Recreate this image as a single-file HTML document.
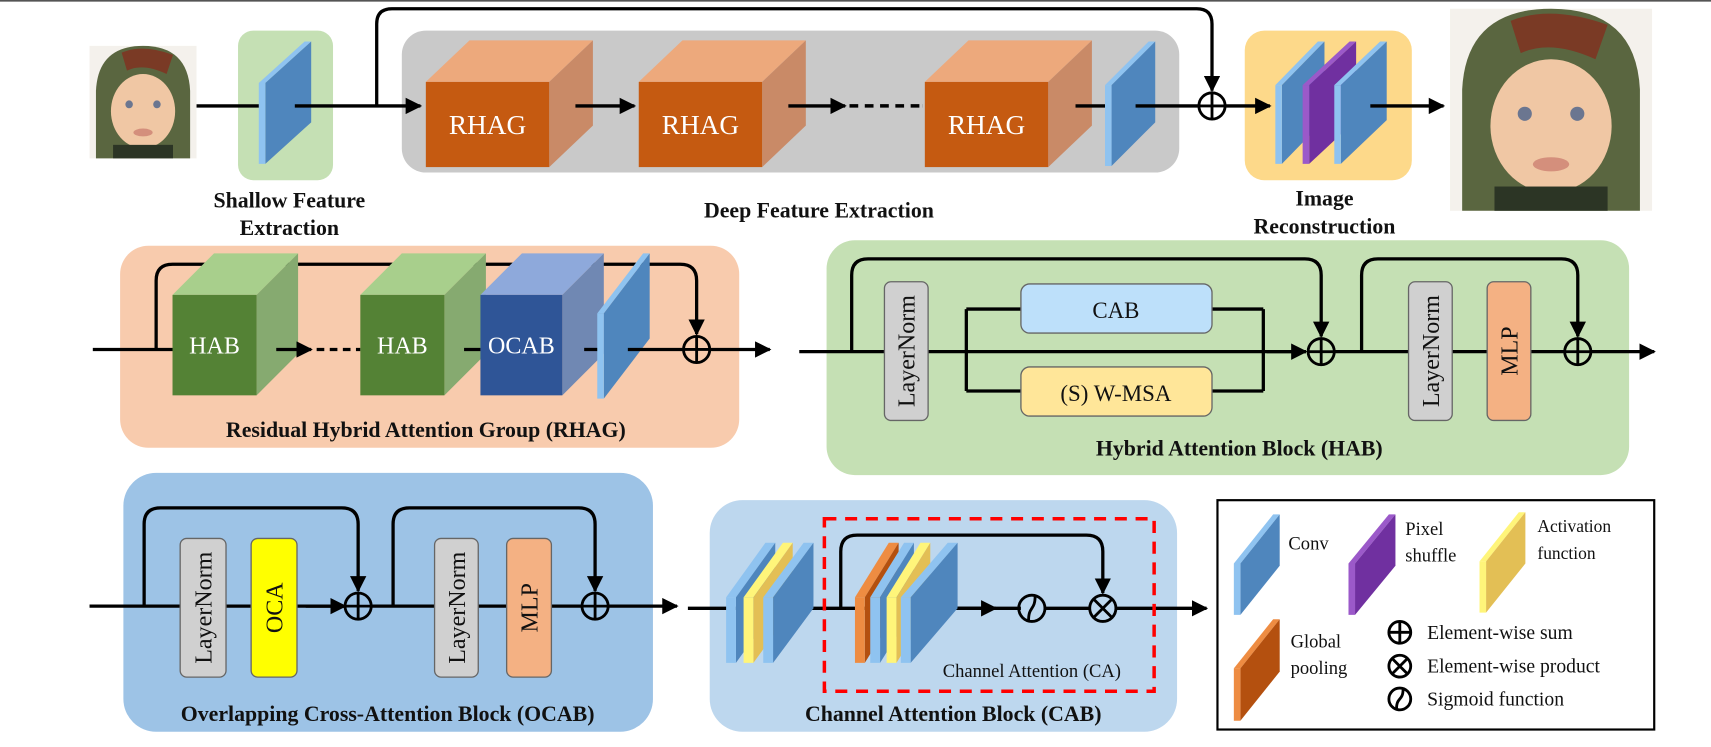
<!DOCTYPE html>
<html><head><meta charset="utf-8"><style>
html,body{margin:0;padding:0;background:#fff;width:1711px;height:747px;overflow:hidden}
svg{display:block}
text{font-family:"Liberation Serif",serif}
.b{font-weight:bold;font-size:20px;fill:#111}
</style></head><body>
<svg id="s" width="1711" height="747" viewBox="0 0 1567 684" preserveAspectRatio="none" xmlns="http://www.w3.org/2000/svg" font-family="Liberation Serif, serif">
<defs>
<marker id="ar" viewBox="0 0 10 10" refX="9" refY="5" markerWidth="5" markerHeight="5" orient="auto" markerUnits="strokeWidth"><path d="M0,0L10,5L0,10z" fill="#000"/></marker>
<g id="baby">
<rect x="0" y="0" width="100" height="100" fill="#f4f1ec"/>
<path d="M6,100 L6,40 Q8,0 50,0 Q92,0 94,40 L94,100z" fill="#5a6640"/>
<path d="M30,6 Q50,-2 78,8 L72,25 Q50,15 35,22z" fill="#7a3a25"/>
<ellipse cx="50" cy="58" rx="30" ry="33" fill="#f0c7a4"/>
<rect x="22" y="88" width="56" height="12" fill="#2c3525"/>
<circle cx="37" cy="52" r="3.5" fill="#6b7690"/><circle cx="63" cy="52" r="3.5" fill="#6b7690"/>
<ellipse cx="50" cy="77" rx="9" ry="3.5" fill="#d48f7c"/>
</g>
</defs>
<rect x="0" y="0" width="1567" height="1.5" fill="#555"/>
<g id="g"></g>
</svg>
<script>
var o='';var FF=' font-family="Liberation Serif, serif"';
function P(pts,f,st){o+='<polygon points="'+pts+'" fill="'+f+'"'+(st?' stroke="'+st+'" stroke-width="1"':'')+'/>';}
function plate(x,y,W,H,d,face,edge,e){e=e||6;
 P([x,y+d,x+W-e,y,x+W,y,x+e,y+d].join(' '),edge);
 P([x+e,y+d,x+W,y,x+W,y+H-d,x+e,y+H].join(' '),face);
 P([x,y+d,x+e,y+d,x+e,y+H,x,y+H].join(' '),edge);}
function cube(x,y,w,h,dx,dy,fr,top,side,label,fs){
 P([x,y,x+dx,y-dy,x+w+dx,y-dy,x+w,y].join(' '),top);
 P([x+w,y,x+w+dx,y-dy,x+w+dx,y+h-dy,x+w,y+h].join(' '),side);
 o+='<rect x="'+x+'" y="'+y+'" width="'+w+'" height="'+h+'" fill="'+fr+'"/>';
 o+='<text'+FF+' x="'+(x+w/2)+'" y="'+(y+h/2+fs*0.35)+'" text-anchor="middle" font-size="'+fs+'" fill="#fff">'+label+'</text>';}
function L(d,arrow,w){o+='<path d="'+d+'" fill="none" stroke="#000" stroke-width="'+(w||3)+'"'+(arrow?' marker-end="url(#ar)"':'')+'/>';}
function R(x,y,w,h,r,f,st){o+='<rect x="'+x+'" y="'+y+'" width="'+w+'" height="'+h+'" rx="'+r+'" fill="'+f+'"'+(st?' stroke="'+st+'" stroke-width="1.2"':'')+'/>';}
function T(x,y,s,cls,anchor,fs){o+='<text'+FF+' x="'+x+'" y="'+y+'" '+(cls?'font-weight="bold" font-size="20" fill="#111" ':'fill="#111" ')+'text-anchor="'+(anchor||'middle')+'"'+(fs?' font-size="'+fs+'"':'')+'>'+s+'</text>';}
function VT(x,y,w,h,s,f,fs){R(x,y,w,h,6,f,'#666');o+='<text'+FF+' transform="translate('+(x+w/2+fs*0.35)+','+(y+h/2)+') rotate(-90)" text-anchor="middle" font-size="'+fs+'" fill="#111">'+s+'</text>';}
function plus(x,y,r){r=r||12;o+='<circle cx="'+x+'" cy="'+y+'" r="'+r+'" fill="none" stroke="#000" stroke-width="2.6"/>';L('M'+(x-r)+','+y+'H'+(x+r)+'M'+x+','+(y-r)+'V'+(y+r),0,2.6);}
function times(x,y,r){r=r||12;o+='<circle cx="'+x+'" cy="'+y+'" r="'+r+'" fill="none" stroke="#000" stroke-width="2.6"/>';var k=r*0.7;L('M'+(x-k)+','+(y-k)+'L'+(x+k)+','+(y+k)+'M'+(x+k)+','+(y-k)+'L'+(x-k)+','+(y+k),0,2.6);}
function sig(x,y,r){r=r||12;o+='<circle cx="'+x+'" cy="'+y+'" r="'+r+'" fill="none" stroke="#000" stroke-width="2.6"/>';L('M'+(x-3)+','+(y+r-1)+'C'+(x-3)+','+(y-2)+' '+(x+3)+','+(y+2)+' '+(x+3)+','+(y-r+1),0,2.6);}
var BL='#4f86bd',BE='#8fc3f0',PU='#7030a0',PE='#9b59c9',YE='#e3bf55',YE2='#fff57a',OR='#c55a11',OE='#ee8c42';
o+='<use href="#baby" transform="translate(82,42) scale(0.98,1.03)"/>';
o+='<use href="#baby" transform="translate(1328,8) scale(1.85,1.85)"/>';
R(218,28,87,137,14,'#c5e0b4');
R(368,28,712,130,22,'#c9c9c9');
R(1140,28,153,137,18,'#fdd98a');
L('M180,97H240');plate(237,38,48,112,38,BL,BE);
L('M270,97H385',1);
L('M345,97V22Q345,8 359,8H1096Q1110,8 1110,22V83',1);
cube(390,75,113,78,40,38,OR,'#eda97c','#c98a67','RHAG',25);
cube(585,75,113,78,40,38,OR,'#eda97c','#c98a67','RHAG',25);
cube(847,75,113,78,40,38,OR,'#eda97c','#c98a67','RHAG',25);
L('M527,97H581',1);
L('M722,97H774',1);L('M778,97H845',0,3.2);
o+='<path d="M786,97H845" stroke="#c9c9c9" stroke-width="4" stroke-dasharray="6,8"/>';
L('M985,97H1014');plate(1012,38,46,114,40,BL,BE);
L('M1040,97H1098');plus(1110,97);
L('M1122,97H1163',1);
plate(1168,38,45,112,40,BL,BE);plate(1193,38,49,112,40,PU,PE);plate(1222,38,48,112,40,BL,BE);
L('M1255,97H1322',1);
T(265,190,'Shallow Feature','b');T(265,215,'Extraction','b');
T(750,199,'Deep Feature Extraction','b');
T(1213,188,'Image','b');T(1213,214,'Reconstruction','b');
R(110,225,567,185,26,'#f8cbad');
L('M85,320H160');
L('M143,320V257Q143,242 158,242H623Q638,242 638,257V306',1);
cube(158,270,77,92,38,38,'#548235','#a8cf8c','#86aa70','HAB',22);
L('M253,320H285',1);o+='<path d="M290,320H330" stroke="#000" stroke-width="3" stroke-dasharray="7,5"/>';
cube(330,270,77,92,38,38,'#548235','#a8cf8c','#86aa70','HAB',22);
L('M425,320H440');
cube(440,270,75,92,38,38,'#2f5597','#8ea9db','#7088b3','OCAB',22);
L('M535,320H548');plate(547,232,48,133,55,BL,BE);
L('M575,320H626');plus(638,320);L('M650,320H705',1);
T(390,400,'Residual Hybrid Attention Group (RHAG)','b');
R(757,220,735,215,26,'#c5e0b4');
L('M732,322H1196',0);
L('M780,322V252Q780,237 795,237H1195Q1210,237 1210,252V308',1);
L('M885,283V358M885,283H935M885,358H935M1110,283H1157M1110,358H1157M1157,283V358');
o+='<path d="M1160,322H1196" stroke="#000" stroke-width="3" marker-end="url(#ar)"/>';
VT(810,258,40,127,'LayerNorm','#d0d0d0',22);
R(935,260,175,45,8,'#bde0fa','#666');T(1022,291,'CAB','','middle',21);
R(935,336,175,45,8,'#ffe699','#666');T(1022,367,'(S) W-MSA','','middle',21);
plus(1210,322);
L('M1222,322H1432');L('M1457,322H1515',1);
L('M1247,322V252Q1247,237 1262,237H1430Q1445,237 1445,252V308',1);
VT(1290,258,40,127,'LayerNorm','#d0d0d0',22);
VT(1362,258,40,127,'MLP','#f4b183',22);
plus(1445,322);
T(1135,417,'Hybrid Attention Block (HAB)','b');
R(113,433,485,237,30,'#9dc3e6');
L('M82,555H316',0);
L('M280,555H316',1);
L('M132,555V480Q132,465 147,465H313Q328,465 328,480V541',1);
plus(328,555);L('M340,555H533');
L('M360,555V480Q360,465 375,465H530Q545,465 545,480V541',1);
plus(545,555);L('M557,555H620',1);
VT(165,493,42,127,'LayerNorm','#d0d0d0',22);
VT(230,493,42,127,'OCA','#ffff00',22);
VT(398,493,40,127,'LayerNorm','#d0d0d0',22);
VT(464,493,41,127,'MLP','#f4b183',22);
T(355,660,'Overlapping Cross-Attention Block (OCAB)','b');
R(650,458,428,212,30,'#bdd7ee');
L('M630,557H935');
plate(665,497,45,110,50,BL,BE,9);plate(681,497,45,110,50,YE,YE2,9);plate(699,497,46,110,50,BL,BE,9);
L('M770,557V505Q770,490 785,490H995Q1010,490 1010,505V543',1);
plate(783,497,40,110,50,'#b4500f',OE,9);plate(797,497,40,110,50,BL,BE,9);plate(812,497,40,110,50,YE,YE2,9);plate(825,497,52,110,50,BL,BE,9);
L('M877,557H912',1);
sig(945,557);L('M957,557H998');times(1010,557);L('M1022,557H1105',1);
o+='<rect x="755" y="475" width="302" height="158" fill="none" stroke="#f00" stroke-width="3.2" stroke-dasharray="11,8"/>';
T(945,620,'Channel Attention (CA)','','middle',17);
T(873,660,'Channel Attention Block (CAB)','b');
o+='<rect x="1115" y="458" width="400" height="210" fill="#fff" stroke="#000" stroke-width="2"/>';
plate(1130,471,42,92,45,BL,BE);T(1180,503,'Conv','','start',17);
plate(1235,471,43,92,45,PU,PE);T(1287,490,'Pixel','','start',17);T(1287,514,'shuffle','','start',17);
plate(1355,469,42,92,45,YE,YE2);T(1408,487,'Activation','','start',16);T(1408,512,'function','','start',16);
plate(1130,567,42,93,45,'#b4500f',OE);T(1182,593,'Global','','start',17);T(1182,617,'pooling','','start',17);
plus(1282,579,10);T(1307,585,'Element-wise sum','','start',18);
times(1282,610,10);T(1307,616,'Element-wise product','','start',18);
sig(1282,640,10);T(1307,646,'Sigmoid function','','start',18);
document.getElementById('g').innerHTML=o;
</script>
</body></html>
